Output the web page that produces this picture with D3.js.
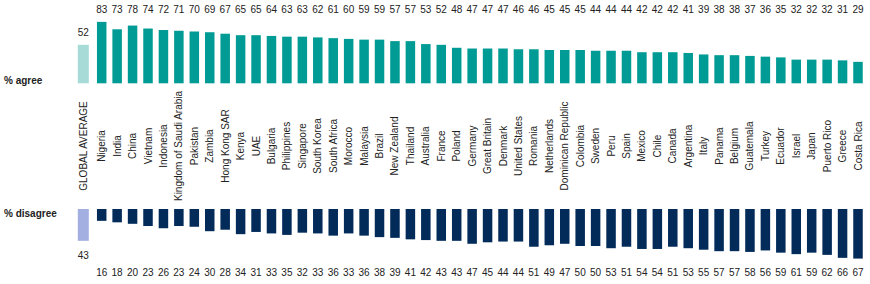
<!DOCTYPE html>
<html>
<head>
<meta charset="utf-8">
<script src="https://cdn.jsdelivr.net/npm/d3@7"></script>
<style>
  body { margin: 0; background: #fff; }
  svg text { font-family: "Liberation Sans", Arial, sans-serif; fill: #222; }
</style>
</head>
<body>
<div id="chart"></div>
<script>
const countries = ['Nigeria', 'India', 'China', 'Vietnam', 'Indonesia', 'Kingdom of Saudi Arabia',
    'Pakistan', 'Zambia', 'Hong Kong SAR', 'Kenya', 'UAE', 'Bulgaria', 'Philippines', 'Singapore',
    'South Korea', 'South Africa', 'Morocco', 'Malaysia', 'Brazil', 'New Zealand', 'Thailand',
    'Australia', 'France', 'Poland', 'Germany', 'Great Britain', 'Denmark', 'United States',
    'Romania', 'Netherlands', 'Dominican Republic', 'Colombia', 'Sweden', 'Peru', 'Spain', 'Mexico',
    'Chile', 'Canada', 'Argentina', 'Italy', 'Panama', 'Belgium', 'Guatemala', 'Turkey', 'Ecuador',
    'Israel', 'Japan', 'Puerto Rico', 'Greece', 'Costa Rica'];
const agree = [83, 73, 78, 74, 72, 71, 70, 69, 67, 65, 65, 64, 63, 63, 62, 61, 60, 59, 59, 57,
    57, 53, 52, 48, 47, 47, 47, 46, 46, 45, 45, 45, 44, 44, 44, 42, 42, 42, 41, 39,
    38, 38, 37, 36, 35, 32, 32, 32, 31, 29];
const disagree = [16, 18, 20, 23, 26, 23, 24, 30, 28, 34, 31, 33, 35, 32, 33, 36, 33, 36, 38, 39,
    41, 42, 43, 43, 47, 45, 44, 44, 51, 49, 47, 50, 50, 53, 51, 54, 54, 51, 53, 55,
    57, 57, 58, 56, 59, 61, 59, 62, 66, 67];
const globalLabel = 'GLOBAL AVERAGE';
const globalAgree = 52;
const globalDisagree = 43;

const width = 870, height = 284;
const barW = 9.5, avgW = 11, avgX = 83.3;

const svg = d3.select('#chart').append('svg')
    .attr('width', width)
    .attr('height', height);

const x = d3.scalePoint().domain(countries).range([101.7, 858]);
const yA = d3.scaleLinear().domain([0, 100]).range([83.3, 83.3 - 74]);
const yD = d3.scaleLinear().domain([0, 100]).range([209, 209 + 74]);

const rows = countries.map((c, i) => ({ name: c, a: agree[i], d: disagree[i] }));

// agree bars
svg.append('g').selectAll('rect')
    .data(rows).enter().append('rect')
    .attr('x', d => x(d.name) - barW / 2)
    .attr('y', d => yA(d.a))
    .attr('width', barW)
    .attr('height', d => yA(0) - yA(d.a))
    .attr('fill', '#009B94');

svg.append('g').selectAll('text')
    .data(rows).enter().append('text')
    .attr('x', d => x(d.name))
    .attr('y', 12.5)
    .attr('text-anchor', 'middle')
    .attr('font-size', 10)
    .text(d => d.a);

// disagree bars
svg.append('g').selectAll('rect')
    .data(rows).enter().append('rect')
    .attr('x', d => x(d.name) - barW / 2)
    .attr('y', yD(0))
    .attr('width', barW)
    .attr('height', d => yD(d.d) - yD(0))
    .attr('fill', '#022B5A');

svg.append('g').selectAll('text')
    .data(rows).enter().append('text')
    .attr('x', d => x(d.name))
    .attr('y', 275.5)
    .attr('text-anchor', 'middle')
    .attr('font-size', 10)
    .text(d => d.d);

// global average
svg.append('rect')
    .attr('x', avgX - avgW / 2).attr('y', yA(globalAgree))
    .attr('width', avgW).attr('height', yA(0) - yA(globalAgree))
    .attr('fill', '#A6DBD8');
svg.append('text')
    .attr('x', avgX).attr('y', yA(globalAgree) - 8.5)
    .attr('text-anchor', 'middle').attr('font-size', 10)
    .text(globalAgree);
svg.append('rect')
    .attr('x', avgX - avgW / 2).attr('y', yD(0))
    .attr('width', avgW).attr('height', yD(globalDisagree) - yD(0))
    .attr('fill', '#A3AFE0');
svg.append('text')
    .attr('x', avgX).attr('y', yD(globalDisagree) + 18)
    .attr('text-anchor', 'middle').attr('font-size', 10)
    .text(globalDisagree);

// rotated category labels
const labels = [{ name: globalLabel, cx: avgX }].concat(countries.map(c => ({ name: c, cx: x(c) })));
svg.append('g').selectAll('text')
    .data(labels).enter().append('text')
    .attr('transform', d => `translate(${d.cx},146) rotate(-90)`)
    .attr('dy', '0.35em')
    .attr('text-anchor', 'middle')
    .attr('font-size', 10)
    .text(d => d.name);

// row titles
svg.append('text').attr('x', 4).attr('y', 83.5)
    .attr('font-size', 10).attr('font-weight', 'bold').text('% agree');
svg.append('text').attr('x', 4).attr('y', 216.5)
    .attr('font-size', 10).attr('font-weight', 'bold').text('% disagree');
</script>
</body>
</html>
